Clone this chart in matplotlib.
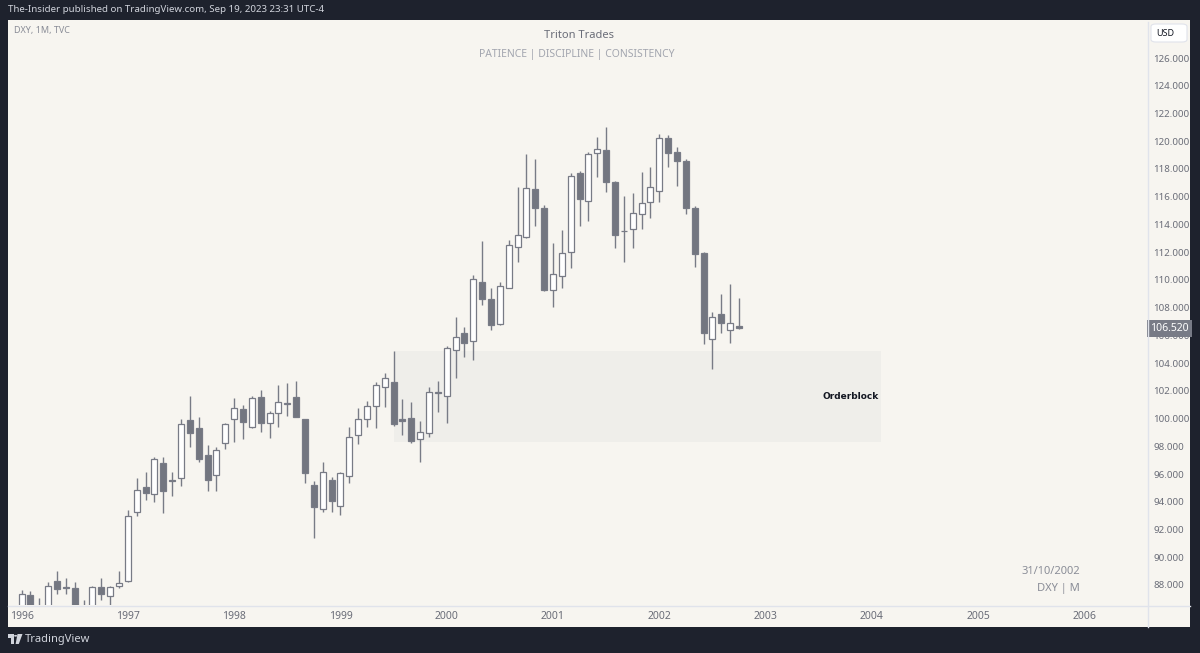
import matplotlib
matplotlib.use('Agg')
import matplotlib.pyplot as plt
from matplotlib.patches import Rectangle, FancyBboxPatch, Circle, Polygon
from matplotlib.lines import Line2D
import numpy as np

plt.rcParams['font.family'] = ['Noto Sans', 'DejaVu Sans']

# DXY monthly candles, Jan 1996 .. Oct 2002
opens = [86.3, 87.26, 86.1, 86.3, 88.29, 87.85, 87.76, 86.2, 86.3, 87.89, 87.24, 87.96,
         88.32, 93.27, 95.09, 94.54, 96.8, 95.6, 95.69, 99.9, 99.3, 97.38, 95.94, 98.27,
         99.97, 100.7, 99.37, 101.58, 99.71, 100.38, 101.05, 101.58, 99.95, 95.21, 93.46, 95.57,
         93.73, 95.83, 98.82, 99.95, 100.93, 102.3, 102.66, 99.95, 100.02, 98.51, 98.94, 101.9,
         101.65, 104.95, 106.2, 105.6, 109.87, 108.62, 106.8, 109.44, 112.35, 113.12, 116.56, 115.21,
         109.27, 110.29, 111.99, 117.73, 115.69, 119.13, 119.37, 117.06, 113.5, 113.68, 114.73, 115.6,
         116.41, 120.21, 119.25, 118.57, 115.16, 111.92, 105.72, 107.54, 106.39, 106.68]
highs = [87.65, 87.55, 87.04, 88.25, 89.0, 88.53, 88.25, 86.92, 87.96, 88.49, 87.95, 89.03,
         93.41, 95.69, 96.15, 97.24, 97.26, 96.18, 99.95, 101.65, 100.1, 98.1, 97.98, 99.71,
         101.46, 100.98, 101.65, 102.06, 100.57, 102.42, 102.55, 102.71, 100.0, 95.53, 96.85, 95.76,
         96.18, 99.42, 100.74, 101.29, 102.62, 103.31, 104.88, 101.41, 101.22, 99.85, 102.3, 102.74,
         105.2, 107.35, 106.58, 110.35, 112.83, 109.39, 109.87, 112.88, 116.72, 119.08, 118.69, 115.4,
         112.69, 113.6, 117.68, 117.85, 119.25, 120.33, 121.05, 117.15, 116.08, 116.25, 117.8, 118.12,
         120.52, 120.45, 119.6, 118.69, 115.3, 112.0, 107.71, 108.98, 109.71, 108.67]
lows = [85.9, 85.9, 85.8, 86.1, 87.36, 87.34, 85.9, 85.8, 86.1, 86.92, 86.4, 87.76,
        88.25, 92.98, 94.13, 93.97, 93.17, 94.45, 95.16, 97.93, 96.9, 94.8, 94.8, 97.79,
        98.29, 98.51, 99.3, 99.06, 98.58, 99.42, 100.19, 100.1, 95.38, 91.37, 93.29, 93.29,
        93.05, 95.38, 98.17, 99.42, 99.35, 100.86, 99.5, 98.82, 98.27, 96.9, 98.7, 100.45,
        99.71, 102.91, 104.46, 104.23, 108.19, 106.39, 106.75, 109.39, 111.27, 113.0, 113.89, 109.2,
        108.07, 109.44, 110.84, 113.89, 114.27, 117.44, 116.36, 112.28, 111.32, 112.33, 113.65, 114.44,
        115.6, 118.12, 116.77, 114.75, 110.91, 105.38, 103.56, 106.15, 105.43, 106.46]
closes = [87.35, 86.3, 86.35, 87.96, 87.72, 87.78, 86.3, 86.45, 87.89, 87.36, 87.89, 88.13,
          92.98, 94.85, 94.61, 97.07, 94.8, 95.5, 99.61, 98.94, 97.07, 95.57, 97.74, 99.61,
          100.74, 99.78, 101.46, 99.71, 100.38, 101.16, 101.15, 100.14, 96.1, 93.65, 96.18, 94.08,
          96.06, 98.65, 99.95, 100.93, 102.4, 102.91, 99.61, 99.85, 98.41, 99.06, 101.9, 101.85,
          105.07, 105.91, 105.43, 110.09, 108.6, 106.75, 109.56, 112.52, 113.24, 116.6, 115.21, 109.27,
          110.43, 111.92, 117.49, 115.83, 119.08, 119.42, 117.08, 113.24, 113.55, 114.8, 115.52, 116.68,
          120.25, 119.17, 118.6, 115.21, 111.85, 106.15, 107.35, 106.87, 106.92, 106.52]

year_labels = ['1996', '1997', '1998', '1999', '2000', '2001', '2002', '2003', '2004', '2005', '2006']
price_ticks = list(range(88, 127, 2))

# orderblock zone (from Jul 1999 candle onward)
ob_start, ob_end = 42, 97
ob_top, ob_bottom = 104.87, 98.3
last_price = 106.52

W, H = 1200, 653
BG = '#1e222d'
PANE = '#f7f5f0'
GRAY = '#787b86'

def fx(x):
    return x / W

def fy(y):
    return 1 - y / H

fig = plt.figure(figsize=(12, 6.53), dpi=100, facecolor=BG)

# cream chart pane
fig.patches.append(Rectangle((fx(8), fy(627)), fx(1190) - fx(8), fy(20) - fy(627),
                             transform=fig.transFigure, facecolor=PANE, edgecolor='none', zorder=-1))

ax = fig.add_axes([fx(10), fy(605), fx(1148) - fx(10), fy(22) - fy(605)])
ax.patch.set_alpha(0)
for s in ax.spines.values():
    s.set_visible(False)

n = len(opens)
idx = np.arange(n)
o = np.array(opens)
c = np.array(closes)
up = c >= o

# wicks
ax.vlines(idx, lows, highs, color=GRAY, lw=1, zorder=2)
# bodies
body_h = np.maximum(np.abs(c - o), 0.04)
ax.bar(idx, body_h, bottom=np.minimum(o, c), width=0.68,
       color=np.where(up, '#ffffff', '#737680'), edgecolor=GRAY, linewidth=0.9, zorder=3)

# orderblock
ax.add_patch(Rectangle((ob_start, ob_bottom), ob_end - ob_start, ob_top - ob_bottom,
                       facecolor='#efeeea', edgecolor='none', zorder=1))
ax.text(96.8, (ob_top + ob_bottom) / 2, 'Orderblock', ha='right', va='center',
        fontsize=6.5, fontweight='bold', family=['DejaVu Sans'], color='#131722', zorder=4)

ax.set_xlim(-1.30, 127.17)
ax.set_ylim(86.556, 128.6)

ax.set_xticks(np.arange(len(year_labels)) * 12)
ax.set_xticklabels(year_labels)
ax.set_yticks(price_ticks)
ax.set_yticklabels(['%.3f' % v for v in price_ticks])
ax.yaxis.tick_right()
ax.tick_params(axis='y', length=0, pad=3.6, labelsize=7, labelcolor='#6a6d78')
ax.tick_params(axis='x', length=0, pad=4.6, labelsize=7.5, labelcolor='#6a6d78')

# last price marker
ax.text(1.0 + 2.5 / 1138, last_price, '%.3f' % last_price, transform=ax.get_yaxis_transform(),
        ha='left', va='center', fontsize=7.5, color='white', zorder=5,
        bbox=dict(boxstyle='square,pad=0.3', facecolor=GRAY, edgecolor='none'))

# separators
fig.add_artist(Line2D([fx(8), fx(1190)], [fy(605.5), fy(605.5)], color='#e0e3eb', lw=1))
fig.add_artist(Line2D([fx(1148), fx(1148)], [fy(22), fy(627)], color='#e0e3eb', lw=1))

# USD box
fig.patches.append(FancyBboxPatch((fx(1151), fy(42)), fx(1187) - fx(1151), fy(24) - fy(42),
                                  boxstyle='round,pad=0,rounding_size=0.004',
                                  transform=fig.transFigure, facecolor='white',
                                  edgecolor='#e0e3eb', lw=0.8))
fig.text(fx(1165), fy(33), 'USD', ha='center', va='center', fontsize=6.5, color='#131722')

# texts
fig.text(fx(8), fy(10), 'The-Insider published on TradingView.com, Sep 19, 2023 23:31 UTC-4',
         ha='left', va='center', fontsize=7, color='#d1d4dc')
fig.text(fx(14), fy(31), 'DXY, 1M, TVC', ha='left', va='center', fontsize=6.5, color='#8a8d97')
fig.text(fx(579), fy(36), 'Triton Trades', ha='center', va='center', fontsize=8, color='#6a6d78')
fig.text(fx(577), fy(54), 'PATIENCE | DISCIPLINE | CONSISTENCY', ha='center', va='center',
         fontsize=7.5, color='#a3a6af')
fig.text(fx(1080), fy(571), '31/10/2002', ha='right', va='center', fontsize=8, color='#8a8d97')
fig.text(fx(1080), fy(589), 'DXY | M', ha='right', va='center', fontsize=8, color='#8a8d97')

# TradingView logo
logo_col = '#d1d4dc'
fig.patches.append(Rectangle((fx(8), fy(637.5)), fx(13.5) - fx(8), fy(634) - fy(637.5),
                             transform=fig.transFigure, facecolor=logo_col, edgecolor='none'))
fig.patches.append(Rectangle((fx(10.8), fy(644)), fx(13.5) - fx(10.8), fy(634) - fy(644),
                             transform=fig.transFigure, facecolor=logo_col, edgecolor='none'))
fig.patches.append(Circle((fx(15.6), fy(635.8)), 1.6 / W, transform=fig.transFigure,
                          facecolor=logo_col, edgecolor='none'))
fig.patches.append(Polygon([(fx(17.5), fy(634)), (fx(22.5), fy(634)), (fx(18.8), fy(644)), (fx(15.6), fy(644))],
                           closed=True, transform=fig.transFigure, facecolor=logo_col, edgecolor='none'))
fig.text(fx(25), fy(639.5), 'TradingView', ha='left', va='center', fontsize=8, color=logo_col)

fig.savefig('out.png', dpi=100, facecolor=BG)
